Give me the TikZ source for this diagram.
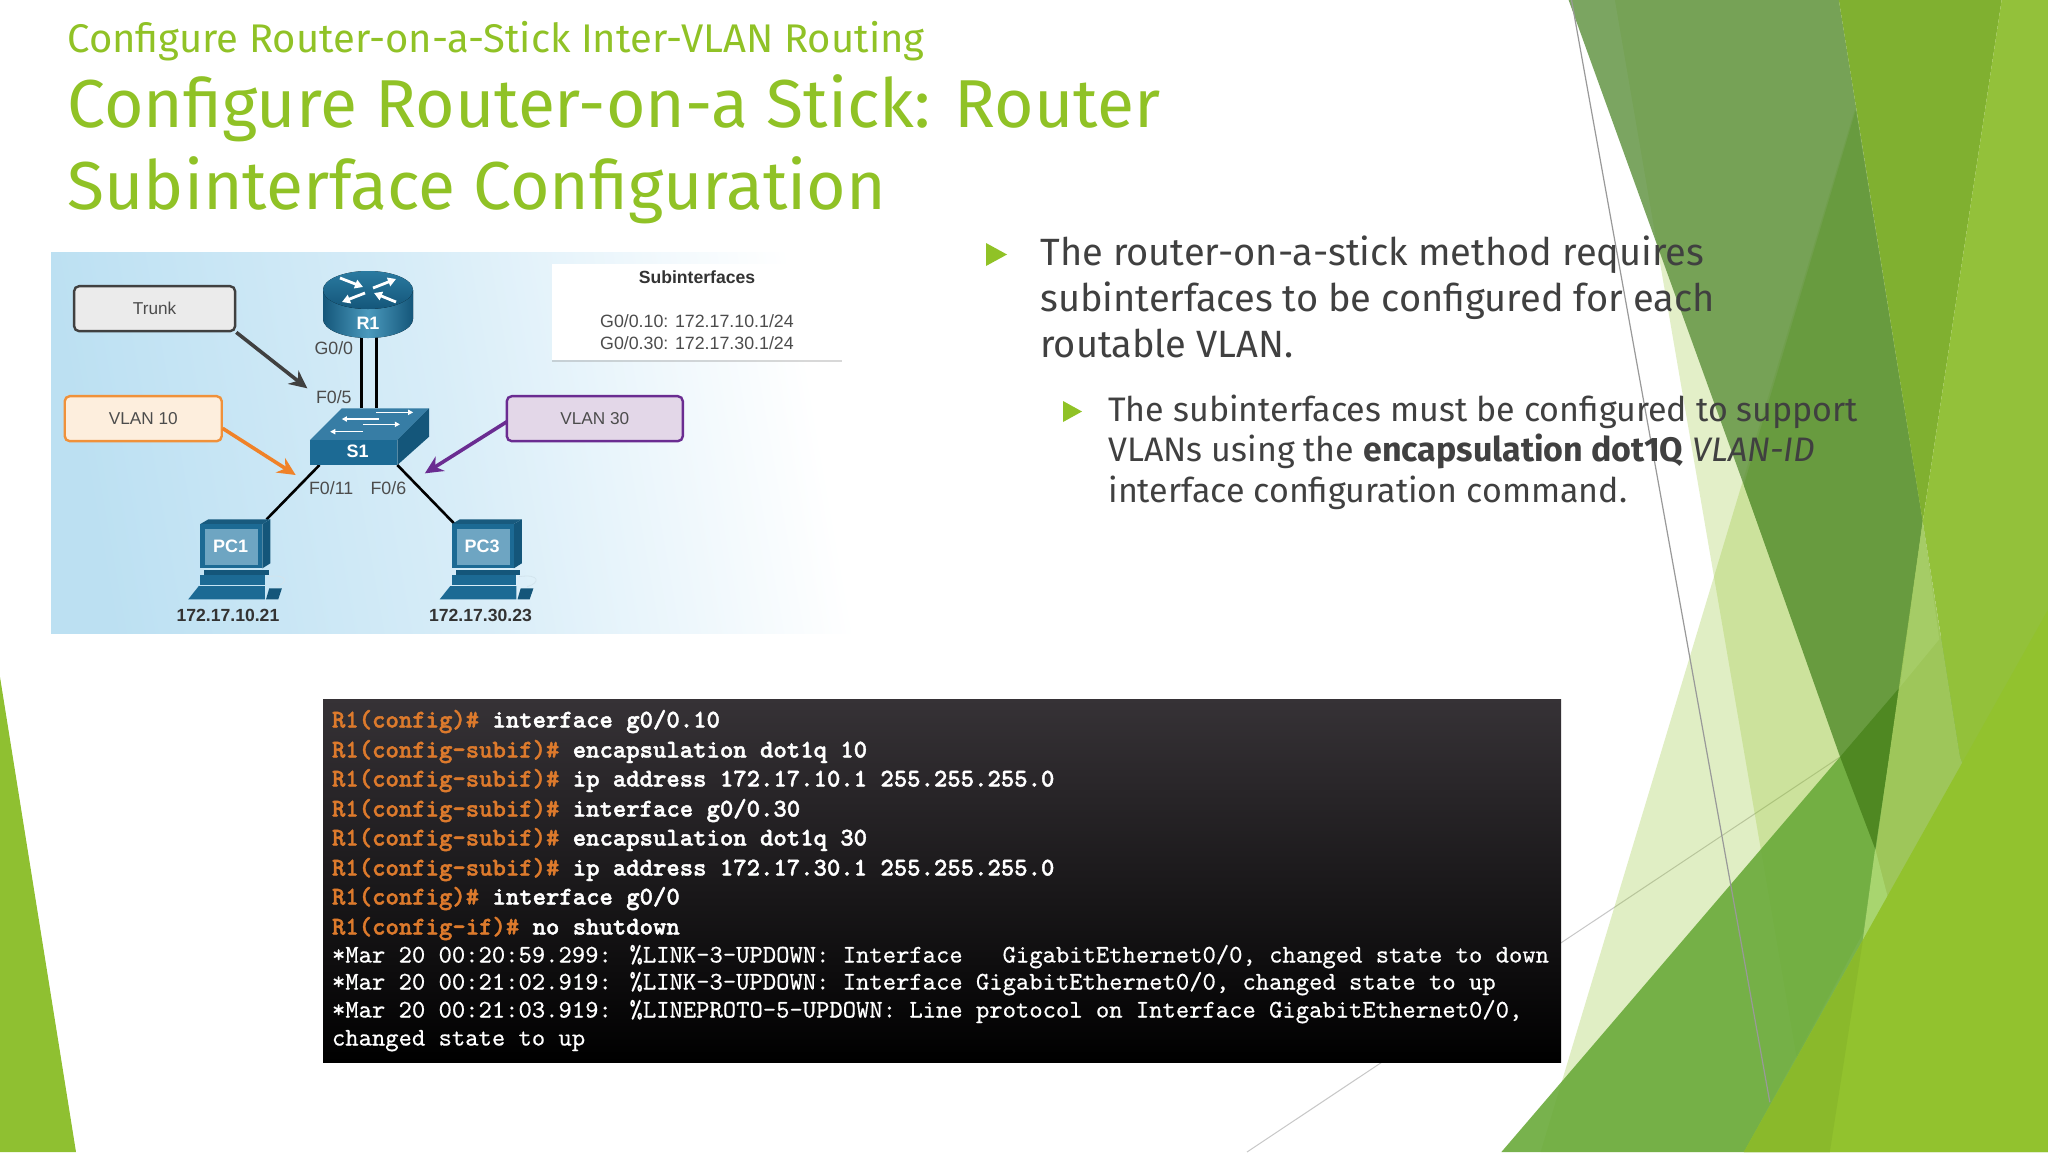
\documentclass[tikz,border=0pt]{standalone}
\usepackage{fontspec}
\setmainfont{Fira Sans}
\newfontfamily\netfont{Liberation Sans}
\newfontfamily\termbf[FakeBold=1.6]{lmmonolt10-bold.otf}
\newfontfamily\termrg[FakeBold=0.5]{lmmono10-regular.otf}
\usetikzlibrary{arrows.meta,shadows}
\definecolor{titlegreen}{HTML}{90C226}
\definecolor{bodygray}{HTML}{404040}
\definecolor{prompt}{HTML}{DD7A2C}
\definecolor{netblue}{HTML}{1C6A94}
\definecolor{netdark}{HTML}{14567A}
\definecolor{netpale}{HTML}{6EA5C2}
\definecolor{corner}{HTML}{8FC031}
\definecolor{facetT}{HTML}{6AAA3A}
\definecolor{facetA}{HTML}{5B8F3A}
\definecolor{facetD}{HTML}{689B3F}
\definecolor{facetK}{HTML}{4F8822}
\definecolor{facetM}{HTML}{80B030}
\definecolor{facetR}{HTML}{93C13A}
\definecolor{facetL}{HTML}{9EC65A}
\definecolor{facetU}{HTML}{A5CC66}
\definecolor{facetV}{HTML}{A8D56F}
\definecolor{facetB}{HTML}{92C22E}
\definecolor{facetC}{HTML}{8AB92B}
\definecolor{skyA}{HTML}{BCE0F2}
\definecolor{skyB}{HTML}{D8EDF8}
\definecolor{termtop}{HTML}{363236}
\definecolor{orangeline}{HTML}{F0913A}
\definecolor{orangefill}{HTML}{FDEEDD}
\definecolor{orangearrow}{HTML}{F08228}
\definecolor{purpleline}{HTML}{6A2C91}
\definecolor{purplefill}{HTML}{E3D7E8}
\definecolor{routerhi}{HTML}{4B9ABD}
\definecolor{routertop}{HTML}{2A7AA0}
\definecolor{switchtop}{HTML}{377DA5}
\tikzset{
  titlesmall/.style={anchor=base west,inner sep=0pt,text=titlegreen,font=\fontsize{20}{22}\selectfont},
  titlebig/.style={anchor=base west,inner sep=0pt,text=titlegreen,font=\fontsize{33.9}{36}\selectfont},
  bodyA/.style={anchor=base west,inner sep=0pt,text=bodygray,font=\fontsize{19}{20}\selectfont},
  bodyB/.style={anchor=base west,inner sep=0pt,text=bodygray,font=\fontsize{17}{18}\selectfont},
  termline/.style={anchor=base west,inner sep=0pt,text=white,font=\termrg\fontsize{12.69}{14}\selectfont},
  boldline/.style={anchor=base west,inner sep=0pt,text=white,font=\termbf\fontsize{12.74}{14}\selectfont},
  netlabel/.style={inner sep=0pt,text=black!70,font=\netfont\fontsize{8.9}{10}\selectfont},
  netbold/.style={inner sep=0pt,text=black!80,font=\netfont\bfseries\fontsize{8.8}{10}\selectfont},
  devlabel/.style={inner sep=0pt,text=white,font=\netfont\bfseries\fontsize{9}{10}\selectfont},
  callout/.style={draw,line width=1.2pt,rounded corners=2.5pt,inner sep=0pt,minimum height=22.5pt,text=black!70,font=\netfont\fontsize{8.6}{10}\selectfont},
  calloutarrow/.style={line width=1.8pt,-{Stealth[length=9pt,width=8.5pt]}},
  link/.style={black,line width=1.3pt},
  swarrow/.style={white,line width=.7pt,-{Triangle[length=2.6pt,width=2.6pt]}},
  rtarrow/.style={white,line width=1.4pt,-{Triangle[length=4pt,width=4.4pt]}},
}
\begin{document}
\begin{tikzpicture}[x=0.5pt,y=-0.5pt]
\useasboundingbox (0,0) rectangle (2048,1152);
\fill[white] (0,0) rectangle (2048,1152);
% left corner
\fill[corner] (0,677) -- (76,1152) -- (0,1152) -- cycle;
% thin line behind the terminal
\draw[black!22,line width=.5pt] (1247,1152) -- (1840,757);
% facets (coordinates of the right part)
\begin{scope}[shift={(1400,0)},x=0.2066pt,y=-0.3674pt]
  \fill[titlegreen,opacity=.25] (520,0) -- (1062,0) -- (1265,710) -- (1120,1270) -- (960,1440) -- cycle;
  \fill[titlegreen,opacity=.27] (340,1568) -- (1100,150) -- (1265,710) -- (1120,1270) -- (832,1568) -- cycle;
  \fill[facetT,opacity=.9] (245,1568) -- (1568,700) -- (1568,1568) -- cycle;
  \fill[facetA,opacity=.8] (408,0) -- (1062,0) -- (1265,710) -- (1150,1155) -- cycle;
  \fill[facetD] (1103,150) -- (1265,710) -- (1210,935) -- (1065,1030) -- (832,660) -- cycle;
  \fill[facetK] (1065,1030) -- (1210,935) -- (1150,1155) -- cycle;
  \fill[facetM] (1062,0) -- (1456,0) -- (1265,710) -- cycle;
  \fill[facetR] (1456,0) -- (1568,0) -- (1568,900) -- (1400,1100) -- (1355,1030) -- (1265,710) -- cycle;
  \fill[facetL] (1265,710) -- (1355,1030) -- (1400,1100) -- (1120,1330) -- (1120,1280) -- cycle;
  \fill[facetU] (1265,710) -- (1305,870) -- (1210,935) -- cycle;
  \fill[facetV] (1150,1155) -- (1180,1220) -- (1120,1280) -- cycle;
  \fill[facetB] (832,1568) -- (1568,830) -- (1568,1568) -- cycle;
  \fill[facetC] (832,1568) -- (1120,1280) -- (1040,1568) -- cycle;
  \draw[black!40,line width=.6pt] (415,0) -- (895,1500);
\end{scope}
% titles
\node[titlesmall] (kicker) at (67,52) {Configure Router-on-a-Stick Inter-VLAN Routing};
\node[titlebig] (title1) at (67,127) {Configure Router-on-a Stick: Router};
\node[titlebig] (title2) at (67,209) {Subinterface Configuration};
% network image
\fill[left color=skyA,right color=white,middle color=skyB,shading angle=100] (51,252) rectangle (850,633);
\begin{scope}[shift={(40,240)},x=0.2647pt,y=-0.16667pt]
  % callouts
  \node[callout,draw=black!75,fill=black!8,minimum width=80.5pt] (trunk) at (216.5,206) {Trunk};
  \node[callout,draw=orangeline,fill=orangefill,minimum width=78.5pt] (vlanten) at (195,536) {VLAN 10};
  \node[callout,draw=purpleline,fill=purplefill,minimum width=88pt] (vlanthirty) at (1048,536) {VLAN 30};
  \node[draw=none,fill=white,minimum width=145pt,minimum height=48pt,inner sep=0pt,drop shadow={shadow xshift=0pt,shadow yshift=-1.2pt,opacity=.3}] (subbox) at (1241,215) {};
  \node[netbold] (subhead) at (1241,113) {Subinterfaces};
  \node[netlabel] (sub10) at (1241,243) {G0/0.10: 172.17.10.1/24};
  \node[netlabel] (sub30) at (1241,310) {G0/0.30: 172.17.30.1/24};
  % links
  \coordinate (ra) at (607,280); \coordinate (rb) at (636,280);
  \coordinate (sa) at (607,505); \coordinate (sb) at (636,505);
  \coordinate (sl) at (528,675); \coordinate (sr) at (675,675);
  \coordinate (pca) at (428,838); \coordinate (pcb) at (782,850);
  \draw[link] (ra) -- (sa);
  \draw[link] (rb) -- (sb);
  \draw[link] (sl) -- (pca);
  \draw[link] (sr) -- (pcb);
  % switch
  \fill[switchtop] (510,600) -- (570,505) -- (735,505) -- (675,600) -- cycle;
  \fill[netblue] (510,600) rectangle (675,675);
  \fill[netdark] (675,600) -- (735,505) -- (735,590) -- (675,675) -- cycle;
  \draw[swarrow] (635,517) -- (705,517);
  \draw[swarrow] (640,537) -- (570,537);
  \draw[swarrow] (610,553) -- (680,553);
  \draw[swarrow] (610,575) -- (548,575);
  \node[devlabel] (sone) at (600,635) {S1};
  % port labels
  \node[netlabel] (gzero) at (555,325) {G0/0};
  \node[netlabel] (ffive) at (555,470) {F0/5};
  \node[netlabel] (feleven) at (550,745) {F0/11};
  \node[netlabel] (fsix) at (658,745) {F0/6};
  % PCs
  \foreach \dx/\nm/\lab in {0/pcone/PC1,475/pcthree/PC3}{
    \begin{scope}[shift={(\dx,0)}]
      \fill[netdark] (420,852) -- (435,838) -- (435,970) -- (420,985) -- cycle;
      \fill[netblue!85!black] (303,852) -- (318,838) -- (435,838) -- (420,852) -- cycle;
      \fill[netblue] (303,852) rectangle (420,985);
      \fill[netpale] (312,868) rectangle (412,975);
      \node[devlabel] (\nm) at (360,920) {\lab};
      \fill[netdark] (310,990) rectangle (432,1005);
      \fill[netblue] (303,1005) rectangle (425,1035);
      \draw[white!70!netpale,line width=.4pt] (430,1010) .. controls (470,1000) and (470,1030) .. (445,1040);
      \fill[netblue] (300,1038) -- (425,1038) -- (425,1078) -- (280,1078) -- cycle;
      \fill[netdark] (433,1045) -- (457,1045) -- (450,1078) -- (427,1078) -- cycle;
    \end{scope}
  }
  \node[netbold] (ipone) at (355,1127) {172.17.10.21};
  \node[netbold] (ipthree) at (832,1127) {172.17.30.23};
  % callout arrows
  \coordinate (trunktip) at (505,445);
  \coordinate (tentip) at (483,705);
  \coordinate (thirtytip) at (727,700);
  \coordinate (tenstart) at (345,565);
  \coordinate (thirtystart) at (882,545);
  \draw[calloutarrow,color=black!75] (trunk.south east) -- (trunktip);
  \draw[calloutarrow,color=orangearrow] (tenstart) -- (tentip);
  \draw[calloutarrow,color=purpleline] (thirtystart) -- (thirtytip);
\end{scope}
% router
\fill[left color=netdark,right color=netdark,middle color=routerhi] (323,290) -- (413,290) -- (413,319) arc[start angle=0,end angle=180,x radius=45,y radius=19] -- cycle;
\fill[top color=routertop,bottom color=netdark] (368,290) ellipse[x radius=45,y radius=19];
\draw[rtarrow] (340,278) -- (363,287);
\draw[rtarrow] (396,302) -- (374,293);
\draw[rtarrow] (373,288) -- (396,279);
\draw[rtarrow] (365,293) -- (342,302);
\node[devlabel] (rone) at (368,323) {R1};
% bullets
\fill[titlegreen] (986,243) -- (1007,254.5) -- (986,266) -- cycle;
\node[bodyA] (a1) at (1040,265) {The router-on-a-stick method requires};
\node[bodyA] (a2) at (1040,311) {subinterfaces to be configured for each};
\node[bodyA] (a3) at (1040,357) {routable VLAN.};
\fill[titlegreen] (1063,401) -- (1082,411.5) -- (1063,422) -- cycle;
\node[bodyB] (b1) at (1108,421) {The subinterfaces must be configured to support};
\node[bodyB] (b2) at (1108,461.5) {VLANs using the \textbf{encapsulation dot1Q} \textit{VLAN-ID}};
\node[bodyB] (b3) at (1108,502) {interface configuration command.};
% terminal
\fill[top color=termtop,bottom color=black] (323,699) rectangle (1561,1062);
\node[boldline] (l1) at (331.6,727.5) {\textcolor{prompt}{R1(config)\#} interface g0/0.10};
\node[boldline] (l2) at (331.6,757.5) {\textcolor{prompt}{R1(config-subif)\#} encapsulation dot1q 10};
\node[boldline] (l3) at (331.6,786.5) {\textcolor{prompt}{R1(config-subif)\#} ip address 172.17.10.1 255.255.255.0};
\node[boldline] (l4) at (331.6,816.5) {\textcolor{prompt}{R1(config-subif)\#} interface g0/0.30};
\node[boldline] (l5) at (331.6,845.5) {\textcolor{prompt}{R1(config-subif)\#} encapsulation dot1q 30};
\node[boldline] (l6) at (331.6,875.5) {\textcolor{prompt}{R1(config-subif)\#} ip address 172.17.30.1 255.255.255.0};
\node[boldline] (l7) at (331.6,904.5) {\textcolor{prompt}{R1(config)\#} interface g0/0};
\node[boldline] (l8) at (331.6,934.5) {\textcolor{prompt}{R1(config-if)\#} no shutdown};
\node[termline] (l9) at (331.6,962.5) {*Mar 20 00:20:59.299: \%LINK-3-UPDOWN: Interface\ \ \ GigabitEthernet0/0, changed state to down};
\node[termline] (l10) at (331.6,989.5) {*Mar 20 00:21:02.919: \%LINK-3-UPDOWN: Interface GigabitEthernet0/0, changed state to up};
\node[termline] (l11) at (331.6,1017.5) {*Mar 20 00:21:03.919: \%LINEPROTO-5-UPDOWN: Line protocol on Interface GigabitEthernet0/0,};
\node[termline] (l12) at (331.6,1045.5) {changed state to up};
\end{tikzpicture}
\end{document}
